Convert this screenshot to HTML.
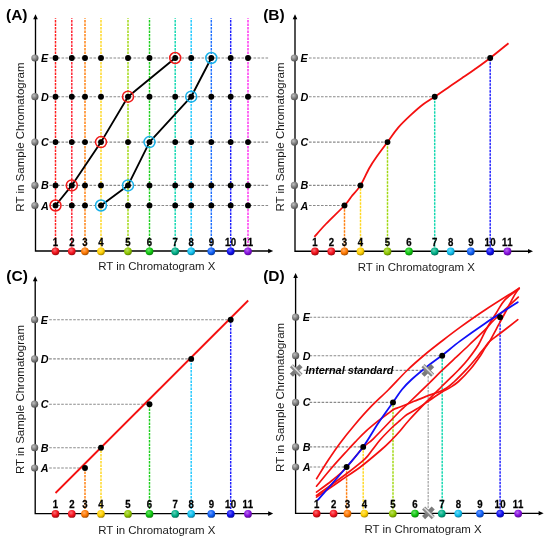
<!DOCTYPE html>
<html><head><meta charset="utf-8"><title>RT alignment</title>
<style>html,body{margin:0;padding:0;background:#fff}svg{display:block}.pl{font:bold 15.5px "Liberation Sans",sans-serif;fill:#000}.at{font:11.45px "Liberation Sans",sans-serif;fill:#1a1a1a}.ay{font:11.5px "Liberation Sans",sans-serif;fill:#1a1a1a}.lt{font:italic bold 10.1px "Liberation Sans",sans-serif;fill:#000}.nm{font:bold 10px "Liberation Sans",sans-serif;fill:#000;stroke:#000;stroke-width:0.25px}.is{font:italic bold 10.85px "Liberation Sans",sans-serif;fill:#000}</style></head><body>
<svg width="550" height="541" viewBox="0 0 550 541">
<defs>
<radialGradient id="gg" cx="0.38" cy="0.35" r="0.7"><stop offset="0" stop-color="#c0c0c0"/><stop offset="0.5" stop-color="#848484"/><stop offset="0.85" stop-color="#5a5a5a"/><stop offset="1" stop-color="#484848"/></radialGradient>
<radialGradient id="g0" cx="0.4" cy="0.35" r="0.7"><stop offset="0" stop-color="#f66f74"/><stop offset="0.55" stop-color="#f01018"/><stop offset="1" stop-color="#90090e"/></radialGradient>
<radialGradient id="g1" cx="0.4" cy="0.35" r="0.7"><stop offset="0" stop-color="#fa7279"/><stop offset="0.55" stop-color="#f81420"/><stop offset="1" stop-color="#940c13"/></radialGradient>
<radialGradient id="g2" cx="0.4" cy="0.35" r="0.7"><stop offset="0" stop-color="#ffae66"/><stop offset="0.55" stop-color="#ff7800"/><stop offset="1" stop-color="#994800"/></radialGradient>
<radialGradient id="g3" cx="0.4" cy="0.35" r="0.7"><stop offset="0" stop-color="#ffe266"/><stop offset="0.55" stop-color="#ffd000"/><stop offset="1" stop-color="#997c00"/></radialGradient>
<radialGradient id="g4" cx="0.4" cy="0.35" r="0.7"><stop offset="0" stop-color="#bcde66"/><stop offset="0.55" stop-color="#90c800"/><stop offset="1" stop-color="#567800"/></radialGradient>
<radialGradient id="g5" cx="0.4" cy="0.35" r="0.7"><stop offset="0" stop-color="#6fde6f"/><stop offset="0.55" stop-color="#10c810"/><stop offset="1" stop-color="#097809"/></radialGradient>
<radialGradient id="g6" cx="0.4" cy="0.35" r="0.7"><stop offset="0" stop-color="#66cfb7"/><stop offset="0.55" stop-color="#00b088"/><stop offset="1" stop-color="#006951"/></radialGradient>
<radialGradient id="g7" cx="0.4" cy="0.35" r="0.7"><stop offset="0" stop-color="#6fd9f6"/><stop offset="0.55" stop-color="#10c0f0"/><stop offset="1" stop-color="#097390"/></radialGradient>
<radialGradient id="g8" cx="0.4" cy="0.35" r="0.7"><stop offset="0" stop-color="#6f9ffa"/><stop offset="0.55" stop-color="#1060f8"/><stop offset="1" stop-color="#093994"/></radialGradient>
<radialGradient id="g9" cx="0.4" cy="0.35" r="0.7"><stop offset="0" stop-color="#6f6ff6"/><stop offset="0.55" stop-color="#1010f0"/><stop offset="1" stop-color="#090990"/></radialGradient>
<radialGradient id="g10" cx="0.4" cy="0.35" r="0.7"><stop offset="0" stop-color="#b76fec"/><stop offset="0.55" stop-color="#8810e0"/><stop offset="1" stop-color="#510986"/></radialGradient>
</defs>
<rect width="550" height="541" fill="#fff"/>
<path d="M35.5,17.2 V251 H270.2" fill="none" stroke="#000" stroke-width="1.35"/>
<path d="M35.5,14.2 l-2.3,5 h4.6z" fill="#000"/>
<path d="M273.2,251 l-5,-2.3 v4.6z" fill="#000"/>
<text x="6.0" y="19.5" class="pl">(A)</text>
<text x="156.8" y="270.1" class="at" text-anchor="middle">RT in Chromatogram X</text>
<text transform="translate(24.4,137.1) rotate(-90)" class="ay" text-anchor="middle">RT in Sample Chromatogram</text>
<line x1="55.5" y1="250" x2="55.5" y2="18.3" stroke="#ff2020" stroke-width="1.45" stroke-dasharray="2.5 1.0"/>
<line x1="71.8" y1="250" x2="71.8" y2="18.3" stroke="#ff2030" stroke-width="1.45" stroke-dasharray="2.5 1.0"/>
<line x1="85" y1="250" x2="85" y2="18.3" stroke="#ff8010" stroke-width="1.45" stroke-dasharray="2.5 1.0"/>
<line x1="101" y1="250" x2="101" y2="18.3" stroke="#ffd820" stroke-width="1.45" stroke-dasharray="2.5 1.0"/>
<line x1="128" y1="250" x2="128" y2="18.3" stroke="#a0d810" stroke-width="1.45" stroke-dasharray="2.5 1.0"/>
<line x1="149.5" y1="250" x2="149.5" y2="18.3" stroke="#20d020" stroke-width="1.45" stroke-dasharray="2.5 1.0"/>
<line x1="175.2" y1="250" x2="175.2" y2="18.3" stroke="#10d8b0" stroke-width="1.45" stroke-dasharray="2.5 1.0"/>
<line x1="191.2" y1="250" x2="191.2" y2="18.3" stroke="#20c8ff" stroke-width="1.45" stroke-dasharray="2.5 1.0"/>
<line x1="211.3" y1="250" x2="211.3" y2="18.3" stroke="#2070ff" stroke-width="1.45" stroke-dasharray="2.5 1.0"/>
<line x1="230.7" y1="250" x2="230.7" y2="18.3" stroke="#2020ff" stroke-width="1.45" stroke-dasharray="2.5 1.0"/>
<line x1="248" y1="250" x2="248" y2="18.3" stroke="#ff30f0" stroke-width="1.45" stroke-dasharray="2.5 1.0"/>
<line x1="49.5" y1="205.5" x2="269" y2="205.5" stroke="#8a8a8a" stroke-width="1.1" stroke-dasharray="2.6 1.4"/>
<line x1="49.5" y1="185.4" x2="269" y2="185.4" stroke="#8a8a8a" stroke-width="1.1" stroke-dasharray="2.6 1.4"/>
<line x1="49.5" y1="142.1" x2="269" y2="142.1" stroke="#8a8a8a" stroke-width="1.1" stroke-dasharray="2.6 1.4"/>
<line x1="49.5" y1="96.7" x2="269" y2="96.7" stroke="#8a8a8a" stroke-width="1.1" stroke-dasharray="2.6 1.4"/>
<line x1="49.5" y1="58" x2="269" y2="58" stroke="#8a8a8a" stroke-width="1.1" stroke-dasharray="2.6 1.4"/>
<path d="M55.5,205.5 L71.8,185.4 L101,142.1 L128,96.7 L175.2,58" fill="none" stroke="#000" stroke-width="1.85" stroke-linejoin="round"/>
<path d="M101,205.5 L128,185.4 L149.5,142.1 L191.2,96.7 L211.3,58" fill="none" stroke="#000" stroke-width="1.85" stroke-linejoin="round"/>
<circle cx="55.5" cy="205.5" r="2.95" fill="#000"/>
<circle cx="55.5" cy="185.4" r="2.95" fill="#000"/>
<circle cx="55.5" cy="142.1" r="2.95" fill="#000"/>
<circle cx="55.5" cy="96.7" r="2.95" fill="#000"/>
<circle cx="55.5" cy="58" r="2.95" fill="#000"/>
<circle cx="71.8" cy="205.5" r="2.95" fill="#000"/>
<circle cx="71.8" cy="185.4" r="2.95" fill="#000"/>
<circle cx="71.8" cy="142.1" r="2.95" fill="#000"/>
<circle cx="71.8" cy="96.7" r="2.95" fill="#000"/>
<circle cx="71.8" cy="58" r="2.95" fill="#000"/>
<circle cx="85" cy="205.5" r="2.95" fill="#000"/>
<circle cx="85" cy="185.4" r="2.95" fill="#000"/>
<circle cx="85" cy="142.1" r="2.95" fill="#000"/>
<circle cx="85" cy="96.7" r="2.95" fill="#000"/>
<circle cx="85" cy="58" r="2.95" fill="#000"/>
<circle cx="101" cy="205.5" r="2.95" fill="#000"/>
<circle cx="101" cy="185.4" r="2.95" fill="#000"/>
<circle cx="101" cy="142.1" r="2.95" fill="#000"/>
<circle cx="101" cy="96.7" r="2.95" fill="#000"/>
<circle cx="101" cy="58" r="2.95" fill="#000"/>
<circle cx="128" cy="205.5" r="2.95" fill="#000"/>
<circle cx="128" cy="185.4" r="2.95" fill="#000"/>
<circle cx="128" cy="142.1" r="2.95" fill="#000"/>
<circle cx="128" cy="96.7" r="2.95" fill="#000"/>
<circle cx="128" cy="58" r="2.95" fill="#000"/>
<circle cx="149.5" cy="205.5" r="2.95" fill="#000"/>
<circle cx="149.5" cy="185.4" r="2.95" fill="#000"/>
<circle cx="149.5" cy="142.1" r="2.95" fill="#000"/>
<circle cx="149.5" cy="96.7" r="2.95" fill="#000"/>
<circle cx="149.5" cy="58" r="2.95" fill="#000"/>
<circle cx="175.2" cy="205.5" r="2.95" fill="#000"/>
<circle cx="175.2" cy="185.4" r="2.95" fill="#000"/>
<circle cx="175.2" cy="142.1" r="2.95" fill="#000"/>
<circle cx="175.2" cy="96.7" r="2.95" fill="#000"/>
<circle cx="175.2" cy="58" r="2.95" fill="#000"/>
<circle cx="191.2" cy="205.5" r="2.95" fill="#000"/>
<circle cx="191.2" cy="185.4" r="2.95" fill="#000"/>
<circle cx="191.2" cy="142.1" r="2.95" fill="#000"/>
<circle cx="191.2" cy="96.7" r="2.95" fill="#000"/>
<circle cx="191.2" cy="58" r="2.95" fill="#000"/>
<circle cx="211.3" cy="205.5" r="2.95" fill="#000"/>
<circle cx="211.3" cy="185.4" r="2.95" fill="#000"/>
<circle cx="211.3" cy="142.1" r="2.95" fill="#000"/>
<circle cx="211.3" cy="96.7" r="2.95" fill="#000"/>
<circle cx="211.3" cy="58" r="2.95" fill="#000"/>
<circle cx="230.7" cy="205.5" r="2.95" fill="#000"/>
<circle cx="230.7" cy="185.4" r="2.95" fill="#000"/>
<circle cx="230.7" cy="142.1" r="2.95" fill="#000"/>
<circle cx="230.7" cy="96.7" r="2.95" fill="#000"/>
<circle cx="230.7" cy="58" r="2.95" fill="#000"/>
<circle cx="248" cy="205.5" r="2.95" fill="#000"/>
<circle cx="248" cy="185.4" r="2.95" fill="#000"/>
<circle cx="248" cy="142.1" r="2.95" fill="#000"/>
<circle cx="248" cy="96.7" r="2.95" fill="#000"/>
<circle cx="248" cy="58" r="2.95" fill="#000"/>
<circle cx="55.5" cy="205.5" r="5.5" fill="none" stroke="#f01818" stroke-width="1.5"/>
<circle cx="71.8" cy="185.4" r="5.5" fill="none" stroke="#f01818" stroke-width="1.5"/>
<circle cx="101" cy="142.1" r="5.5" fill="none" stroke="#f01818" stroke-width="1.5"/>
<circle cx="128" cy="96.7" r="5.5" fill="none" stroke="#f01818" stroke-width="1.5"/>
<circle cx="175.2" cy="58" r="5.5" fill="none" stroke="#f01818" stroke-width="1.5"/>
<circle cx="101" cy="205.5" r="5.5" fill="none" stroke="#18b0e8" stroke-width="1.5"/>
<circle cx="128" cy="185.4" r="5.5" fill="none" stroke="#18b0e8" stroke-width="1.5"/>
<circle cx="149.5" cy="142.1" r="5.5" fill="none" stroke="#18b0e8" stroke-width="1.5"/>
<circle cx="191.2" cy="96.7" r="5.5" fill="none" stroke="#18b0e8" stroke-width="1.5"/>
<circle cx="211.3" cy="58" r="5.5" fill="none" stroke="#18b0e8" stroke-width="1.5"/>
<circle cx="34.9" cy="205.5" r="3.6" fill="url(#gg)"/>
<text transform="translate(41.0,209.5) scale(1.07,1)" class="lt">A</text>
<circle cx="34.9" cy="185.4" r="3.6" fill="url(#gg)"/>
<text transform="translate(41.0,189.4) scale(1.07,1)" class="lt">B</text>
<circle cx="34.9" cy="142.1" r="3.6" fill="url(#gg)"/>
<text transform="translate(41.0,146.1) scale(1.07,1)" class="lt">C</text>
<circle cx="34.9" cy="96.7" r="3.6" fill="url(#gg)"/>
<text transform="translate(41.0,100.7) scale(1.07,1)" class="lt">D</text>
<circle cx="34.9" cy="58" r="3.6" fill="url(#gg)"/>
<text transform="translate(41.0,62.0) scale(1.07,1)" class="lt">E</text>
<circle cx="55.5" cy="251.3" r="3.9" fill="url(#g0)"/>
<text transform="translate(55.5,245.5) scale(0.96,1)" class="nm" text-anchor="middle">1</text>
<circle cx="71.8" cy="251.3" r="3.9" fill="url(#g1)"/>
<text transform="translate(71.8,245.5) scale(0.96,1)" class="nm" text-anchor="middle">2</text>
<circle cx="85" cy="251.3" r="3.9" fill="url(#g2)"/>
<text transform="translate(85,245.5) scale(0.96,1)" class="nm" text-anchor="middle">3</text>
<circle cx="101" cy="251.3" r="3.9" fill="url(#g3)"/>
<text transform="translate(101,245.5) scale(0.96,1)" class="nm" text-anchor="middle">4</text>
<circle cx="128" cy="251.3" r="3.9" fill="url(#g4)"/>
<text transform="translate(128,245.5) scale(0.96,1)" class="nm" text-anchor="middle">5</text>
<circle cx="149.5" cy="251.3" r="3.9" fill="url(#g5)"/>
<text transform="translate(149.5,245.5) scale(0.96,1)" class="nm" text-anchor="middle">6</text>
<circle cx="175.2" cy="251.3" r="3.9" fill="url(#g6)"/>
<text transform="translate(175.2,245.5) scale(0.96,1)" class="nm" text-anchor="middle">7</text>
<circle cx="191.2" cy="251.3" r="3.9" fill="url(#g7)"/>
<text transform="translate(191.2,245.5) scale(0.96,1)" class="nm" text-anchor="middle">8</text>
<circle cx="211.3" cy="251.3" r="3.9" fill="url(#g8)"/>
<text transform="translate(211.3,245.5) scale(0.96,1)" class="nm" text-anchor="middle">9</text>
<circle cx="230.7" cy="251.3" r="3.9" fill="url(#g9)"/>
<text transform="translate(230.7,245.5) scale(0.96,1)" class="nm" text-anchor="middle" letter-spacing="0.5">10</text>
<circle cx="248" cy="251.3" r="3.9" fill="url(#g10)"/>
<text transform="translate(248,245.5) scale(0.96,1)" class="nm" text-anchor="middle" letter-spacing="0.5">11</text>
<path d="M295,17.2 V251.2 H530" fill="none" stroke="#000" stroke-width="1.35"/>
<path d="M295,14.2 l-2.3,5 h4.6z" fill="#000"/>
<path d="M533,251.2 l-5,-2.3 v4.6z" fill="#000"/>
<text x="263.2" y="19.5" class="pl">(B)</text>
<text x="416.3" y="270.5" class="at" text-anchor="middle">RT in Chromatogram X</text>
<text transform="translate(283.9,137) rotate(-90)" class="ay" text-anchor="middle">RT in Sample Chromatogram</text>
<line x1="309" y1="205.5" x2="344.5" y2="205.5" stroke="#8a8a8a" stroke-width="1.1" stroke-dasharray="2.6 1.4"/>
<line x1="344.5" y1="250.2" x2="344.5" y2="205.5" stroke="#ff8010" stroke-width="1.45" stroke-dasharray="2.5 1.0"/>
<line x1="309" y1="185.4" x2="360.5" y2="185.4" stroke="#8a8a8a" stroke-width="1.1" stroke-dasharray="2.6 1.4"/>
<line x1="360.5" y1="250.2" x2="360.5" y2="185.4" stroke="#ffd820" stroke-width="1.45" stroke-dasharray="2.5 1.0"/>
<line x1="309" y1="142.1" x2="387.5" y2="142.1" stroke="#8a8a8a" stroke-width="1.1" stroke-dasharray="2.6 1.4"/>
<line x1="387.5" y1="250.2" x2="387.5" y2="142.1" stroke="#a0d810" stroke-width="1.45" stroke-dasharray="2.5 1.0"/>
<line x1="309" y1="96.7" x2="434.7" y2="96.7" stroke="#8a8a8a" stroke-width="1.1" stroke-dasharray="2.6 1.4"/>
<line x1="434.7" y1="250.2" x2="434.7" y2="96.7" stroke="#10d8b0" stroke-width="1.45" stroke-dasharray="2.5 1.0"/>
<line x1="309" y1="58" x2="490.2" y2="58" stroke="#8a8a8a" stroke-width="1.1" stroke-dasharray="2.6 1.4"/>
<line x1="490.2" y1="250.2" x2="490.2" y2="58" stroke="#2020ff" stroke-width="1.45" stroke-dasharray="2.5 1.0"/>
<path d="M314.4,236.8 C316.3,234.7 320.9,229.2 325.9,224.0 C330.9,218.8 340.2,210.1 344.5,205.5 C348.8,200.9 348.8,199.8 351.5,196.5 C354.2,193.2 357.6,190.1 360.5,185.4 C363.4,180.7 366.4,173.3 369.1,168.5 C371.8,163.7 373.7,161.0 376.8,156.6 C379.9,152.2 383.9,146.9 387.5,142.1 C391.1,137.3 394.3,132.1 398.2,127.6 C402.1,123.1 406.7,118.8 410.9,114.9 C415.1,111.0 419.6,107.0 423.6,104.0 C427.6,101.0 430.5,99.5 434.7,96.7 C438.9,93.9 444.5,90.0 449.0,86.9 C453.5,83.8 457.6,81.2 461.8,78.3 C466.1,75.4 469.8,73.0 474.5,69.6 C479.2,66.2 484.5,62.4 490.2,58.0 C495.9,53.6 505.4,45.8 508.5,43.3" fill="none" stroke="#f41010" stroke-width="1.8"/>
<circle cx="344.5" cy="205.5" r="2.95" fill="#000"/>
<circle cx="360.5" cy="185.4" r="2.95" fill="#000"/>
<circle cx="387.5" cy="142.1" r="2.95" fill="#000"/>
<circle cx="434.7" cy="96.7" r="2.95" fill="#000"/>
<circle cx="490.2" cy="58" r="2.95" fill="#000"/>
<circle cx="294.4" cy="205.5" r="3.6" fill="url(#gg)"/>
<text transform="translate(300.5,209.5) scale(1.07,1)" class="lt">A</text>
<circle cx="294.4" cy="185.4" r="3.6" fill="url(#gg)"/>
<text transform="translate(300.5,189.4) scale(1.07,1)" class="lt">B</text>
<circle cx="294.4" cy="142.1" r="3.6" fill="url(#gg)"/>
<text transform="translate(300.5,146.1) scale(1.07,1)" class="lt">C</text>
<circle cx="294.4" cy="96.7" r="3.6" fill="url(#gg)"/>
<text transform="translate(300.5,100.7) scale(1.07,1)" class="lt">D</text>
<circle cx="294.4" cy="58" r="3.6" fill="url(#gg)"/>
<text transform="translate(300.5,62.0) scale(1.07,1)" class="lt">E</text>
<circle cx="315.0" cy="251.5" r="3.9" fill="url(#g0)"/>
<text transform="translate(315.0,245.7) scale(0.96,1)" class="nm" text-anchor="middle">1</text>
<circle cx="331.3" cy="251.5" r="3.9" fill="url(#g1)"/>
<text transform="translate(331.3,245.7) scale(0.96,1)" class="nm" text-anchor="middle">2</text>
<circle cx="344.5" cy="251.5" r="3.9" fill="url(#g2)"/>
<text transform="translate(344.5,245.7) scale(0.96,1)" class="nm" text-anchor="middle">3</text>
<circle cx="360.5" cy="251.5" r="3.9" fill="url(#g3)"/>
<text transform="translate(360.5,245.7) scale(0.96,1)" class="nm" text-anchor="middle">4</text>
<circle cx="387.5" cy="251.5" r="3.9" fill="url(#g4)"/>
<text transform="translate(387.5,245.7) scale(0.96,1)" class="nm" text-anchor="middle">5</text>
<circle cx="409.0" cy="251.5" r="3.9" fill="url(#g5)"/>
<text transform="translate(409.0,245.7) scale(0.96,1)" class="nm" text-anchor="middle">6</text>
<circle cx="434.7" cy="251.5" r="3.9" fill="url(#g6)"/>
<text transform="translate(434.7,245.7) scale(0.96,1)" class="nm" text-anchor="middle">7</text>
<circle cx="450.7" cy="251.5" r="3.9" fill="url(#g7)"/>
<text transform="translate(450.7,245.7) scale(0.96,1)" class="nm" text-anchor="middle">8</text>
<circle cx="470.8" cy="251.5" r="3.9" fill="url(#g8)"/>
<text transform="translate(470.8,245.7) scale(0.96,1)" class="nm" text-anchor="middle">9</text>
<circle cx="490.2" cy="251.5" r="3.9" fill="url(#g9)"/>
<text transform="translate(490.2,245.7) scale(0.96,1)" class="nm" text-anchor="middle" letter-spacing="0.5">10</text>
<circle cx="507.5" cy="251.5" r="3.9" fill="url(#g10)"/>
<text transform="translate(507.5,245.7) scale(0.96,1)" class="nm" text-anchor="middle" letter-spacing="0.5">11</text>
<path d="M35.2,279.3 V513.6 H270.2" fill="none" stroke="#000" stroke-width="1.35"/>
<path d="M35.2,276.3 l-2.3,5 h4.6z" fill="#000"/>
<path d="M273.2,513.6 l-5,-2.3 v4.6z" fill="#000"/>
<text x="6.3" y="280.5" class="pl">(C)</text>
<text x="156.8" y="533.5" class="at" text-anchor="middle">RT in Chromatogram X</text>
<text transform="translate(24.2,399.5) rotate(-90)" class="ay" text-anchor="middle">RT in Sample Chromatogram</text>
<line x1="49.2" y1="468" x2="85" y2="468" stroke="#8a8a8a" stroke-width="1.1" stroke-dasharray="2.6 1.4"/>
<line x1="85" y1="512.6" x2="85" y2="468" stroke="#ff8010" stroke-width="1.45" stroke-dasharray="2.5 1.0"/>
<line x1="49.2" y1="447.7" x2="101" y2="447.7" stroke="#8a8a8a" stroke-width="1.1" stroke-dasharray="2.6 1.4"/>
<line x1="101" y1="512.6" x2="101" y2="447.7" stroke="#ffd820" stroke-width="1.45" stroke-dasharray="2.5 1.0"/>
<line x1="49.2" y1="404.2" x2="149.5" y2="404.2" stroke="#8a8a8a" stroke-width="1.1" stroke-dasharray="2.6 1.4"/>
<line x1="149.5" y1="512.6" x2="149.5" y2="404.2" stroke="#20d020" stroke-width="1.45" stroke-dasharray="2.5 1.0"/>
<line x1="49.2" y1="358.9" x2="191.2" y2="358.9" stroke="#8a8a8a" stroke-width="1.1" stroke-dasharray="2.6 1.4"/>
<line x1="191.2" y1="512.6" x2="191.2" y2="358.9" stroke="#20c8ff" stroke-width="1.45" stroke-dasharray="2.5 1.0"/>
<line x1="49.2" y1="319.7" x2="230.7" y2="319.7" stroke="#8a8a8a" stroke-width="1.1" stroke-dasharray="2.6 1.4"/>
<line x1="230.7" y1="512.6" x2="230.7" y2="319.7" stroke="#2020ff" stroke-width="1.45" stroke-dasharray="2.5 1.0"/>
<path d="M55.5,493 L248.2,300.5" fill="none" stroke="#f41010" stroke-width="1.8"/>
<circle cx="85" cy="468" r="2.95" fill="#000"/>
<circle cx="101" cy="447.7" r="2.95" fill="#000"/>
<circle cx="149.5" cy="404.2" r="2.95" fill="#000"/>
<circle cx="191.2" cy="358.9" r="2.95" fill="#000"/>
<circle cx="230.7" cy="319.7" r="2.95" fill="#000"/>
<circle cx="34.6" cy="468" r="3.6" fill="url(#gg)"/>
<text transform="translate(40.7,472.0) scale(1.07,1)" class="lt">A</text>
<circle cx="34.6" cy="447.7" r="3.6" fill="url(#gg)"/>
<text transform="translate(40.7,451.7) scale(1.07,1)" class="lt">B</text>
<circle cx="34.6" cy="404.2" r="3.6" fill="url(#gg)"/>
<text transform="translate(40.7,408.2) scale(1.07,1)" class="lt">C</text>
<circle cx="34.6" cy="358.9" r="3.6" fill="url(#gg)"/>
<text transform="translate(40.7,362.9) scale(1.07,1)" class="lt">D</text>
<circle cx="34.6" cy="319.7" r="3.6" fill="url(#gg)"/>
<text transform="translate(40.7,323.7) scale(1.07,1)" class="lt">E</text>
<circle cx="55.5" cy="513.9" r="3.9" fill="url(#g0)"/>
<text transform="translate(55.5,508.1) scale(0.96,1)" class="nm" text-anchor="middle">1</text>
<circle cx="71.8" cy="513.9" r="3.9" fill="url(#g1)"/>
<text transform="translate(71.8,508.1) scale(0.96,1)" class="nm" text-anchor="middle">2</text>
<circle cx="85" cy="513.9" r="3.9" fill="url(#g2)"/>
<text transform="translate(85,508.1) scale(0.96,1)" class="nm" text-anchor="middle">3</text>
<circle cx="101" cy="513.9" r="3.9" fill="url(#g3)"/>
<text transform="translate(101,508.1) scale(0.96,1)" class="nm" text-anchor="middle">4</text>
<circle cx="128" cy="513.9" r="3.9" fill="url(#g4)"/>
<text transform="translate(128,508.1) scale(0.96,1)" class="nm" text-anchor="middle">5</text>
<circle cx="149.5" cy="513.9" r="3.9" fill="url(#g5)"/>
<text transform="translate(149.5,508.1) scale(0.96,1)" class="nm" text-anchor="middle">6</text>
<circle cx="175.2" cy="513.9" r="3.9" fill="url(#g6)"/>
<text transform="translate(175.2,508.1) scale(0.96,1)" class="nm" text-anchor="middle">7</text>
<circle cx="191.2" cy="513.9" r="3.9" fill="url(#g7)"/>
<text transform="translate(191.2,508.1) scale(0.96,1)" class="nm" text-anchor="middle">8</text>
<circle cx="211.3" cy="513.9" r="3.9" fill="url(#g8)"/>
<text transform="translate(211.3,508.1) scale(0.96,1)" class="nm" text-anchor="middle">9</text>
<circle cx="230.7" cy="513.9" r="3.9" fill="url(#g9)"/>
<text transform="translate(230.7,508.1) scale(0.96,1)" class="nm" text-anchor="middle" letter-spacing="0.5">10</text>
<circle cx="248" cy="513.9" r="3.9" fill="url(#g10)"/>
<text transform="translate(248,508.1) scale(0.96,1)" class="nm" text-anchor="middle" letter-spacing="0.5">11</text>
<path d="M295.6,276 V513.3 H540.6" fill="none" stroke="#000" stroke-width="1.35"/>
<path d="M295.6,273 l-2.3,5 h4.6z" fill="#000"/>
<path d="M543.6,513.3 l-5,-2.3 v4.6z" fill="#000"/>
<text x="263.2" y="280.5" class="pl">(D)</text>
<text x="423" y="533.3" class="at" text-anchor="middle">RT in Chromatogram X</text>
<text transform="translate(284.4,397.4) rotate(-90)" class="ay" text-anchor="middle">RT in Sample Chromatogram</text>
<line x1="309.6" y1="467" x2="346.6" y2="467" stroke="#8a8a8a" stroke-width="1.1" stroke-dasharray="2.6 1.4"/>
<line x1="346.6" y1="512.3" x2="346.6" y2="467" stroke="#ff8010" stroke-width="1.45" stroke-dasharray="2.5 1.0"/>
<line x1="309.6" y1="446.9" x2="363.2" y2="446.9" stroke="#8a8a8a" stroke-width="1.1" stroke-dasharray="2.6 1.4"/>
<line x1="363.2" y1="512.3" x2="363.2" y2="446.9" stroke="#ffd820" stroke-width="1.45" stroke-dasharray="2.5 1.0"/>
<line x1="309.6" y1="402.4" x2="393" y2="402.4" stroke="#8a8a8a" stroke-width="1.1" stroke-dasharray="2.6 1.4"/>
<line x1="393" y1="512.3" x2="393" y2="402.4" stroke="#a0d810" stroke-width="1.45" stroke-dasharray="2.5 1.0"/>
<line x1="309.6" y1="355.7" x2="442.2" y2="355.7" stroke="#8a8a8a" stroke-width="1.1" stroke-dasharray="2.6 1.4"/>
<line x1="442.2" y1="512.3" x2="442.2" y2="355.7" stroke="#10d8b0" stroke-width="1.45" stroke-dasharray="2.5 1.0"/>
<line x1="309.6" y1="317.2" x2="500.1" y2="317.2" stroke="#8a8a8a" stroke-width="1.1" stroke-dasharray="2.6 1.4"/>
<line x1="500.1" y1="512.3" x2="500.1" y2="317.2" stroke="#2020ff" stroke-width="1.45" stroke-dasharray="2.5 1.0"/>
<line x1="303.6" y1="370.4" x2="427.8" y2="370.4" stroke="#8a8a8a" stroke-width="1.1" stroke-dasharray="2.6 1.4"/>
<line x1="428.2" y1="376" x2="428.2" y2="509.29999999999995" stroke="#a8a8a8" stroke-width="1.3" stroke-dasharray="2.5 1.0"/>
<path d="M316.6,478.7 C318.5,475.7 324.1,466.4 328.0,460.5 C331.9,454.6 335.5,449.2 340.0,443.2 C344.5,437.2 350.0,430.4 355.0,424.5 C360.0,418.6 364.5,413.4 370.0,407.7 C375.5,401.9 382.0,396.2 388.2,390.0 C394.4,383.8 400.9,376.4 407.0,370.5 C413.1,364.6 418.9,359.6 425.0,354.5 C431.1,349.4 437.5,344.5 443.3,340.0 C449.1,335.5 453.1,332.4 460.0,327.4 C466.9,322.4 475.1,316.5 485.0,310.0 C494.9,303.5 513.5,291.9 519.2,288.3" fill="none" stroke="#f41010" stroke-width="1.7" stroke-linecap="round"/>
<path d="M316.5,486.2 C319.1,483.1 326.8,473.5 332.0,467.5 C337.2,461.5 343.6,454.6 347.8,450.0 C352.0,445.4 354.2,443.1 357.1,440.0 C360.1,436.9 362.2,434.6 365.5,431.6 C368.8,428.6 372.9,425.2 376.6,422.2 C380.4,419.2 385.1,415.6 388.0,413.5 C390.9,411.4 392.0,410.4 394.0,409.3 C396.0,408.2 396.7,408.3 400.0,407.0 C403.3,405.7 409.4,403.2 414.0,401.3 C418.6,399.4 423.1,397.7 427.7,395.9 C432.3,394.1 438.2,392.2 441.6,390.7 C445.0,389.2 445.9,388.4 448.0,387.0 C450.1,385.6 450.6,385.1 453.9,382.0 C457.2,378.9 464.1,371.9 467.7,368.1 C471.3,364.3 473.3,361.6 475.5,359.0 C477.7,356.4 479.1,354.3 480.7,352.4 C482.3,350.4 483.5,349.1 485.0,347.3 C486.5,345.5 487.1,343.7 489.6,341.4 C492.1,339.1 495.3,337.1 500.0,333.5 C504.7,329.9 514.8,322.0 517.8,319.7" fill="none" stroke="#f41010" stroke-width="1.7" stroke-linecap="round"/>
<path d="M316.5,492.1 C319.1,490.2 327.1,484.5 332.0,480.5 C336.9,476.5 340.8,473.5 346.0,468.0 C351.2,462.5 358.4,452.4 363.0,447.5 C367.6,442.6 367.1,444.9 373.3,438.8 C379.5,432.7 394.4,416.6 400.0,411.0 C405.6,405.4 401.6,409.8 406.6,405.0 C411.6,400.2 424.1,388.1 430.0,382.3 C435.9,376.5 437.8,374.4 442.0,370.4 C446.2,366.4 450.5,362.4 455.0,358.2 C459.5,354.0 464.0,349.9 469.1,345.0 C474.2,340.1 481.8,333.1 485.9,328.9 C490.0,324.7 488.6,325.3 494.0,320.0 C499.4,314.7 514.2,300.9 518.3,297.1" fill="none" stroke="#f41010" stroke-width="1.7" stroke-linecap="round"/>
<path d="M316.5,495.5 C321.4,491.9 338.1,480.1 346.2,474.0 C354.3,467.9 360.7,462.9 365.0,458.9 C369.3,454.9 369.7,453.1 372.2,450.0 C374.7,446.9 376.9,443.6 380.0,440.0 C383.1,436.4 387.7,431.8 391.0,428.5 C394.3,425.2 397.3,422.8 400.0,420.5 C402.7,418.2 403.9,416.6 407.0,414.5 C410.1,412.4 414.7,410.3 418.5,407.9 C422.3,405.5 426.1,402.6 430.0,400.0 C433.9,397.4 438.3,394.3 441.6,392.2 C444.9,390.1 447.2,389.4 450.0,387.6 C452.8,385.8 455.1,384.6 458.5,381.5 C461.9,378.4 466.8,373.4 470.5,369.0 C474.2,364.6 478.3,358.7 480.7,355.2 C483.1,351.7 483.5,350.3 485.0,348.0 C486.5,345.7 487.1,345.7 489.6,341.4 C492.1,337.1 497.2,327.3 500.0,322.2 C502.8,317.1 503.9,315.1 506.3,310.5 C508.7,305.9 512.5,298.5 514.6,294.8 C516.8,291.1 518.4,289.4 519.2,288.3" fill="none" stroke="#f41010" stroke-width="1.7" stroke-linecap="round"/>
<path d="M316.5,497.1 C320.4,494.4 332.6,486.1 340.0,481.0 C347.4,475.9 354.2,471.7 361.0,466.5 C367.8,461.3 375.9,454.4 381.0,450.0 C386.1,445.6 388.4,443.2 391.6,440.0 C394.8,436.8 397.1,434.3 400.0,431.0 C402.9,427.7 404.6,425.1 409.2,420.0 C413.8,414.9 422.3,406.1 427.7,400.5 C433.1,394.9 437.9,390.2 441.6,386.5 C445.3,382.8 447.2,381.1 450.0,378.3 C452.8,375.6 455.6,373.1 458.5,370.0 C461.4,366.9 464.2,364.2 467.5,360.0 C470.8,355.8 475.2,350.0 478.3,345.0 C481.4,340.0 482.9,335.3 485.9,330.0 C488.9,324.7 492.9,318.3 496.1,313.3 C499.3,308.3 501.0,304.1 504.9,299.9 C508.8,295.7 516.8,290.2 519.2,288.3" fill="none" stroke="#f41010" stroke-width="1.7" stroke-linecap="round"/>
<path d="M317.8,500.0 C322.6,494.5 339.0,475.9 346.6,467.0 C354.2,458.1 358.1,453.9 363.3,446.7 C368.5,439.4 373.1,430.9 378.0,423.5 C382.9,416.1 389.0,407.9 393.0,402.2 C397.0,396.5 398.9,393.3 402.0,389.5 C405.1,385.7 407.3,383.4 411.6,379.5 C415.9,375.6 422.7,370.0 427.8,366.0 C432.9,362.0 436.8,359.4 442.2,355.3 C447.6,351.2 452.9,346.4 460.0,341.1 C467.1,335.8 475.4,329.9 485.0,323.4 C494.6,316.9 512.3,305.7 517.8,302.2" fill="none" stroke="#1010f8" stroke-width="1.8" stroke-linecap="round"/>
<circle cx="346.6" cy="467" r="2.95" fill="#000"/>
<circle cx="363.2" cy="446.9" r="2.95" fill="#000"/>
<circle cx="393" cy="402.4" r="2.95" fill="#000"/>
<circle cx="442.2" cy="355.7" r="2.95" fill="#000"/>
<circle cx="500.1" cy="317.2" r="2.95" fill="#000"/>
<circle cx="295.6" cy="467" r="3.6" fill="url(#gg)"/>
<text transform="translate(302.7,471.0) scale(1.07,1)" class="lt">A</text>
<circle cx="295.6" cy="446.9" r="3.6" fill="url(#gg)"/>
<text transform="translate(302.7,450.9) scale(1.07,1)" class="lt">B</text>
<circle cx="295.6" cy="402.4" r="3.6" fill="url(#gg)"/>
<text transform="translate(302.7,406.4) scale(1.07,1)" class="lt">C</text>
<circle cx="295.6" cy="355.7" r="3.6" fill="url(#gg)"/>
<text transform="translate(302.7,359.7) scale(1.07,1)" class="lt">D</text>
<circle cx="295.6" cy="317.2" r="3.6" fill="url(#gg)"/>
<text transform="translate(302.7,321.2) scale(1.07,1)" class="lt">E</text>
<circle cx="316.7" cy="513.5999999999999" r="3.9" fill="url(#g0)"/>
<text transform="translate(316.7,507.79999999999995) scale(0.96,1)" class="nm" text-anchor="middle">1</text>
<circle cx="333.6" cy="513.5999999999999" r="3.9" fill="url(#g1)"/>
<text transform="translate(333.6,507.79999999999995) scale(0.96,1)" class="nm" text-anchor="middle">2</text>
<circle cx="347.5" cy="513.5999999999999" r="3.9" fill="url(#g2)"/>
<text transform="translate(347.5,507.79999999999995) scale(0.96,1)" class="nm" text-anchor="middle">3</text>
<circle cx="364.4" cy="513.5999999999999" r="3.9" fill="url(#g3)"/>
<text transform="translate(364.4,507.79999999999995) scale(0.96,1)" class="nm" text-anchor="middle">4</text>
<circle cx="392.8" cy="513.5999999999999" r="3.9" fill="url(#g4)"/>
<text transform="translate(392.8,507.79999999999995) scale(0.96,1)" class="nm" text-anchor="middle">5</text>
<circle cx="415" cy="513.5999999999999" r="3.9" fill="url(#g5)"/>
<text transform="translate(415,507.79999999999995) scale(0.96,1)" class="nm" text-anchor="middle">6</text>
<circle cx="441.8" cy="513.5999999999999" r="3.9" fill="url(#g6)"/>
<text transform="translate(441.8,507.79999999999995) scale(0.96,1)" class="nm" text-anchor="middle">7</text>
<circle cx="458.3" cy="513.5999999999999" r="3.9" fill="url(#g7)"/>
<text transform="translate(458.3,507.79999999999995) scale(0.96,1)" class="nm" text-anchor="middle">8</text>
<circle cx="480" cy="513.5999999999999" r="3.9" fill="url(#g8)"/>
<text transform="translate(480,507.79999999999995) scale(0.96,1)" class="nm" text-anchor="middle">9</text>
<circle cx="500.2" cy="513.5999999999999" r="3.9" fill="url(#g9)"/>
<text transform="translate(500.2,507.79999999999995) scale(0.96,1)" class="nm" text-anchor="middle" letter-spacing="0.5">10</text>
<circle cx="518.2" cy="513.5999999999999" r="3.9" fill="url(#g10)"/>
<text transform="translate(518.2,507.79999999999995) scale(0.96,1)" class="nm" text-anchor="middle" letter-spacing="0.5">11</text>
<g transform="translate(296.2,370.5) rotate(45)"><rect x="-2.2" y="-6.8" width="4.4" height="13.6" fill="#7a7a7a"/><rect x="-6.8" y="-2.2" width="13.6" height="4.4" fill="#888"/><rect x="-6.8" y="-1.2" width="13.6" height="1.4" fill="#dcdcdc"/></g>
<g transform="translate(427.8,370.4) rotate(45)"><rect x="-2.2" y="-6.8" width="4.4" height="13.6" fill="#7a7a7a"/><rect x="-6.8" y="-2.2" width="13.6" height="4.4" fill="#888"/><rect x="-6.8" y="-1.2" width="13.6" height="1.4" fill="#dcdcdc"/></g>
<g transform="translate(428.4,512.8) rotate(45)"><rect x="-2.2" y="-6.8" width="4.4" height="13.6" fill="#7a7a7a"/><rect x="-6.8" y="-2.2" width="13.6" height="4.4" fill="#888"/><rect x="-6.8" y="-1.2" width="13.6" height="1.4" fill="#dcdcdc"/></g>
<text x="305.5" y="374.2" class="is">Internal standard</text>
</svg></body></html>
